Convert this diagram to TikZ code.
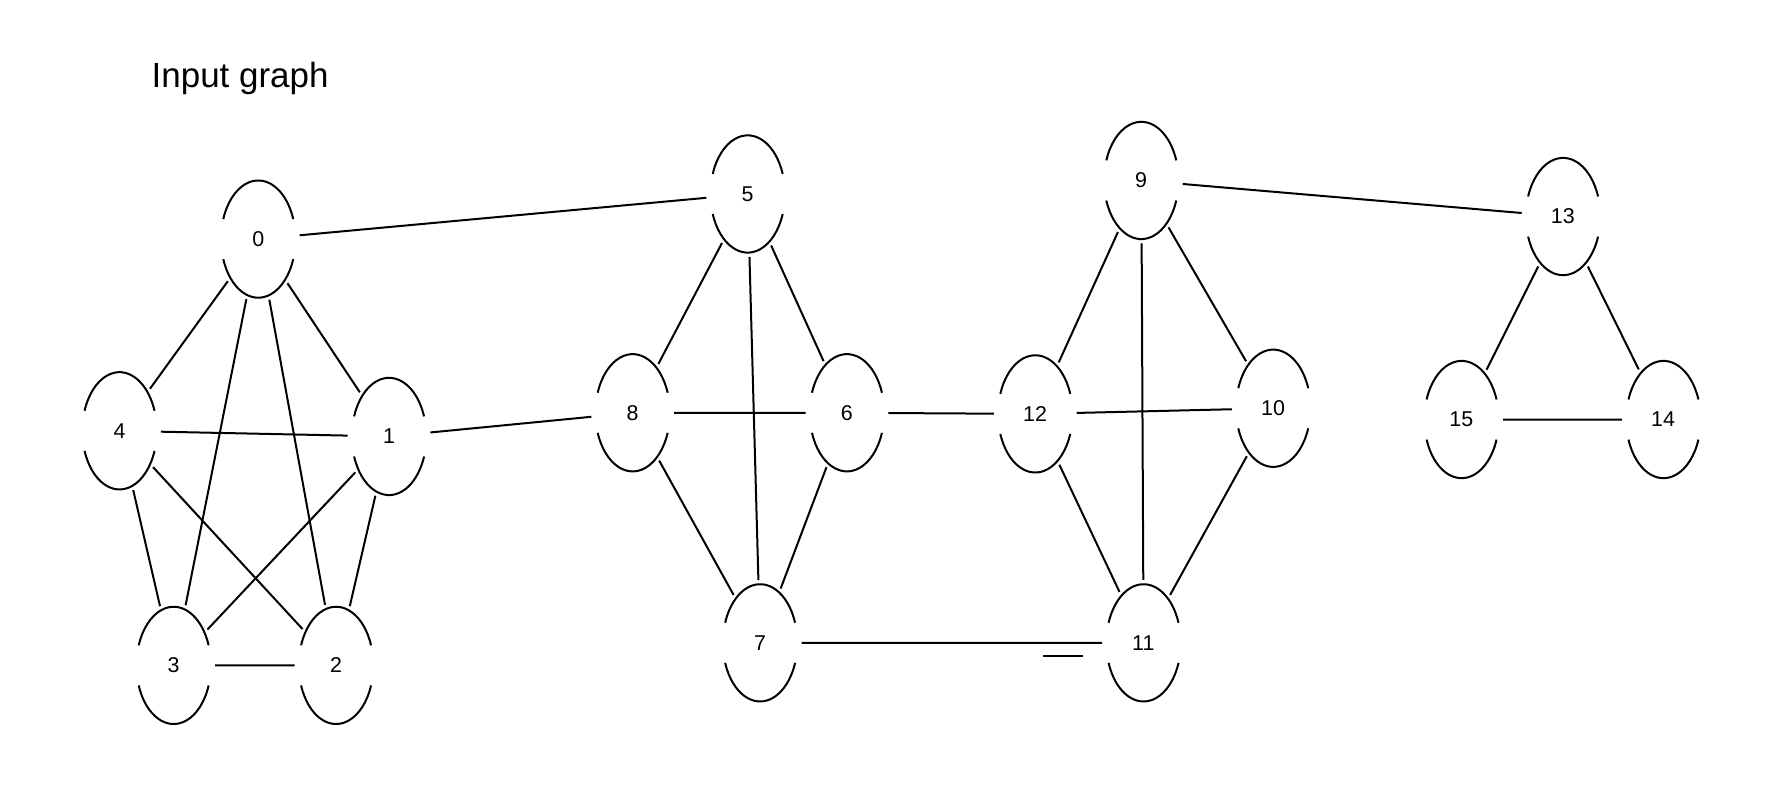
\documentclass[tikz,border=0pt]{standalone}
\usepackage{fontspec}
\setmainfont{Liberation Sans}
\usetikzlibrary{shapes.geometric}
\tikzset{
  vert/.style={ellipse, minimum width=66pt, minimum height=104pt, inner sep=0pt, font=\fontsize{19}{23}\selectfont},
  link/.style={line width=2pt, shorten <=4pt, shorten >=4pt}
}
\begin{document}
\begin{tikzpicture}[x=1pt, y=1pt, scale=1.1276, transform shape]
    \useasboundingbox (0,0) rectangle (1568,-716.6);
    \node[anchor=west, font=\fontsize{31}{36}\selectfont] (title) at (131,-70) {Input graph};

    % vertices
    \node[vert] (v0) at (229,-212) {0};
    \node[vert] (v4) at (106,-382) {4};
    \node[vert] (v1) at (345,-387) {1};
    \node[vert] (v3) at (154,-590) {3};
    \node[vert] (v2) at (298,-590) {2};
    \node[vert] (v5) at (663,-172) {5};
    \node[vert] (v8) at (561,-366) {8};
    \node[vert] (v6) at (751,-366) {6};
    \node[vert] (v7) at (674,-570) {7};
    \node[vert] (v9) at (1012,-160) {9};
    \node[vert] (v12) at (918,-367) {12};
    \node[vert] (v10) at (1129,-362) {10};
    \node[vert] (v11) at (1014,-570) {11};
    \node[vert] (v13) at (1386,-192) {13};
    \node[vert] (v15) at (1296,-372) {15};
    \node[vert] (v14) at (1475,-372) {14};

    % broken outlines
    \foreach \v in {v0,v1,v2,v3,v4,v5,v6,v7,v8,v9,v10,v11,v12,v13,v14,v15} {
      \draw[line width=2pt] ([shift={(20:33pt and 52pt)}]\v.center) arc[start angle=20, end angle=160, x radius=33pt, y radius=52pt];
      \draw[line width=2pt] ([shift={(200:33pt and 52pt)}]\v.center) arc[start angle=200, end angle=340, x radius=33pt, y radius=52pt];
    }

    % edges
    \foreach \a/\b in {v0/v5, v0/v4, v0/v1, v0/v3, v0/v2, v4/v1, v4/v3, v4/v2, v1/v3, v1/v2, v3/v2,
                       v1/v8, v5/v8, v5/v6, v5/v7, v8/v6, v8/v7, v6/v7, v6/v12,
                       v9/v13, v9/v12, v9/v10, v9/v11, v12/v10, v12/v11, v10/v11, v7/v11,
                       v13/v15, v13/v14, v15/v14}
      \draw[link] (\a) -- (\b);

    % small mark
    \coordinate (m1) at (925,-582);
    \coordinate (m2) at (960,-582);
    \draw[line width=2pt] (m1) -- (m2);
\end{tikzpicture}
\end{document}
